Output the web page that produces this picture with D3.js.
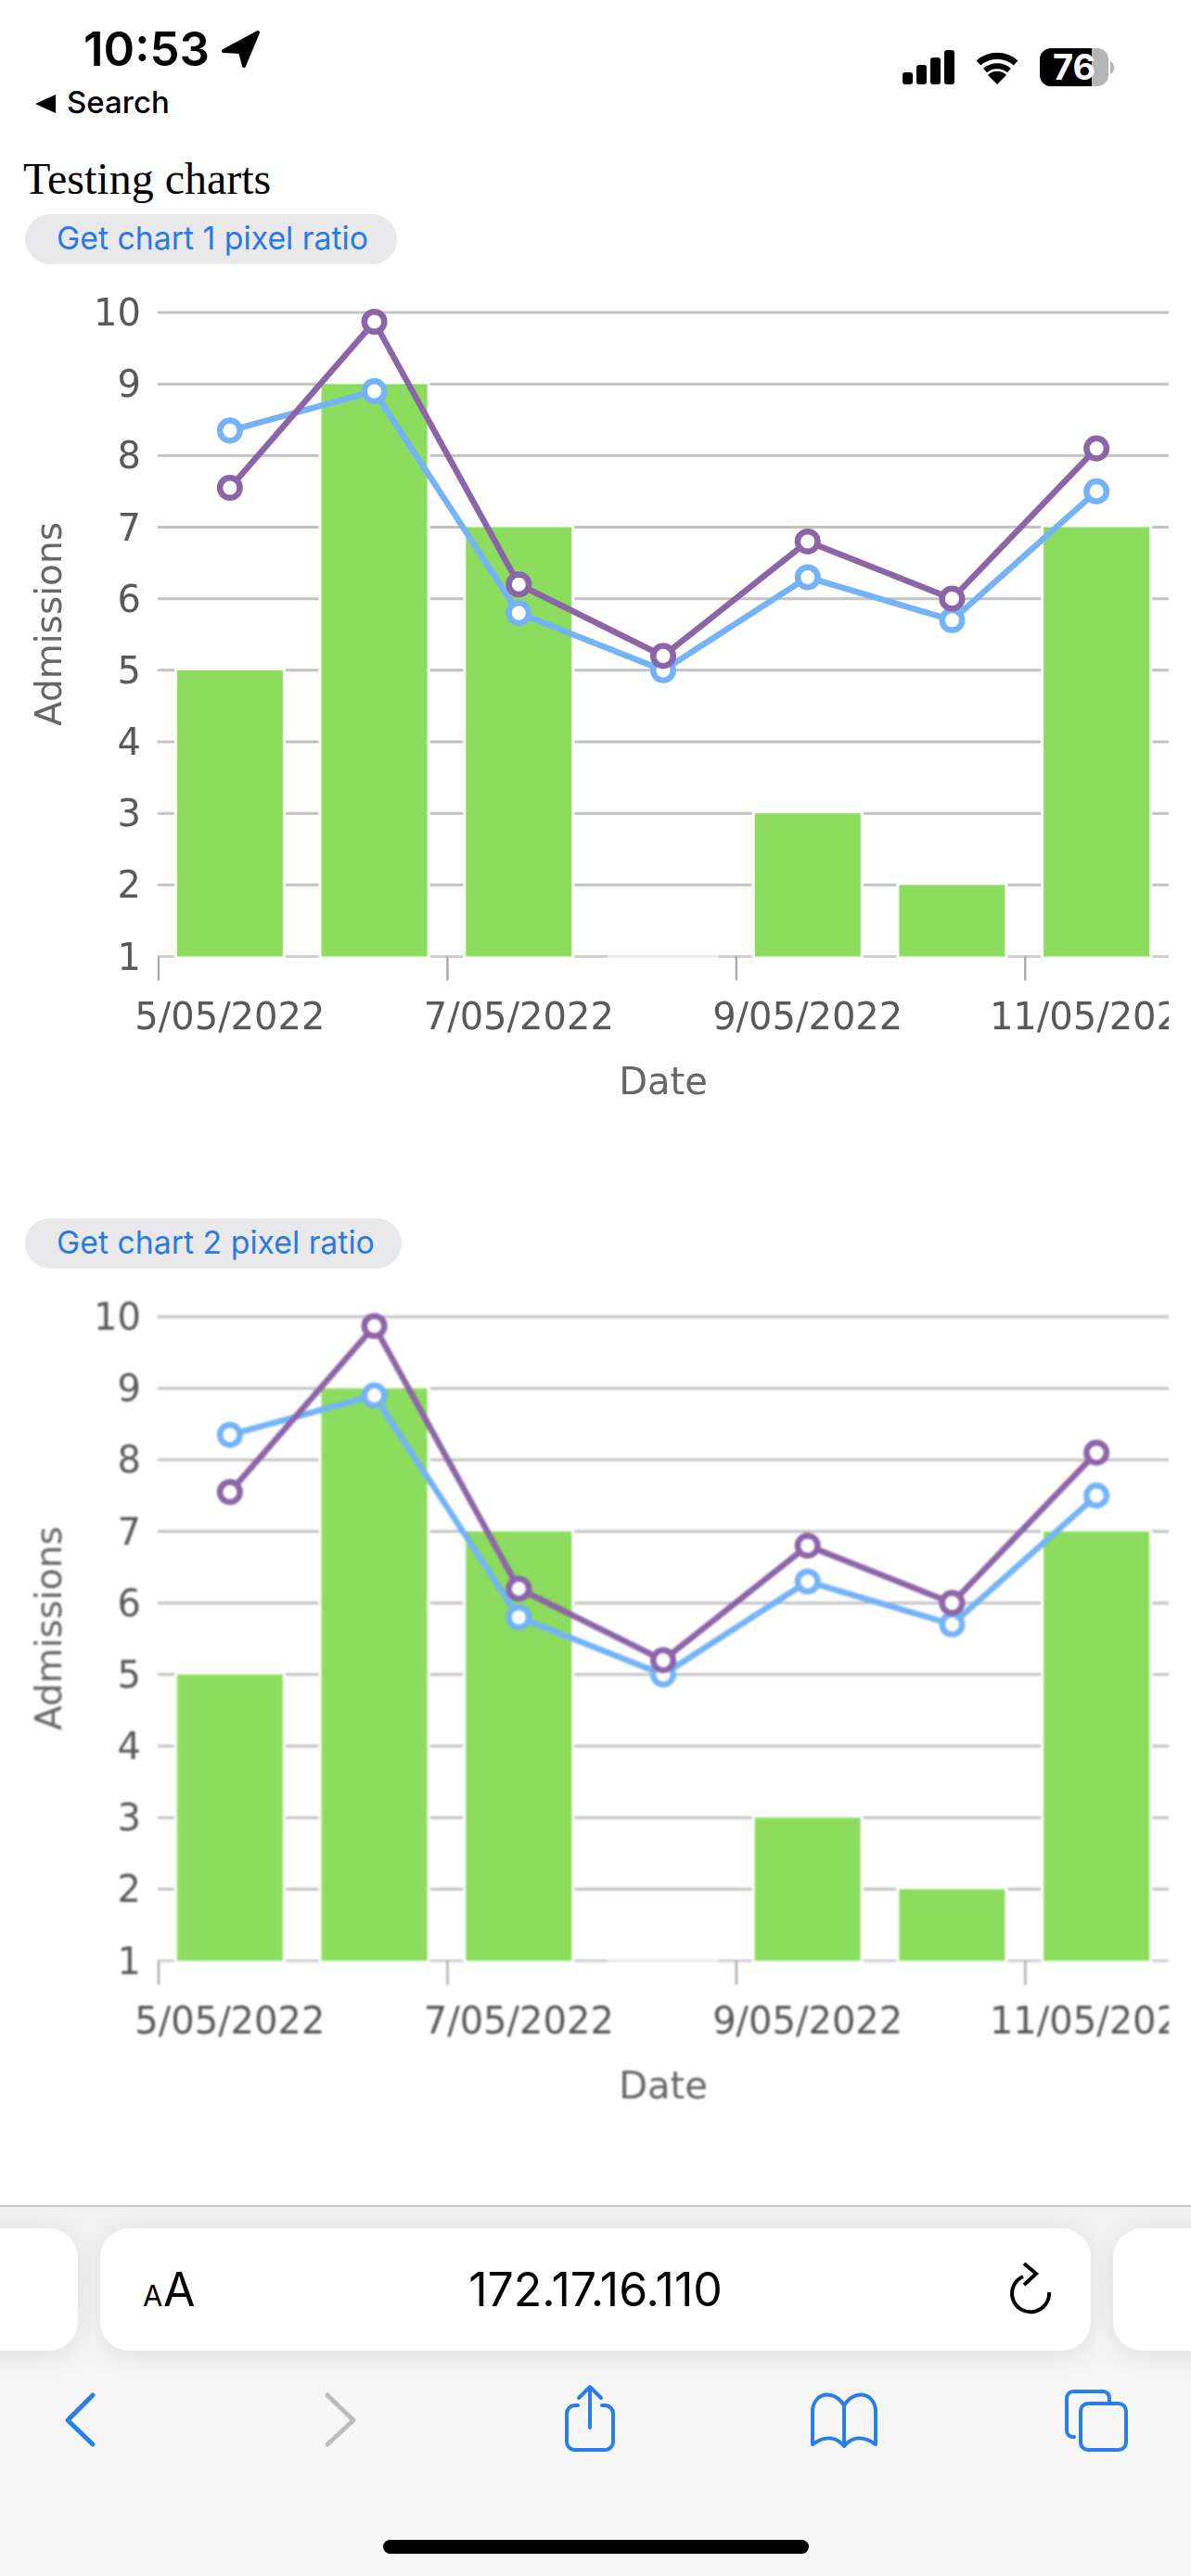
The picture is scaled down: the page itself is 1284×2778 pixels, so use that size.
<!DOCTYPE html>
<html><head><meta charset="utf-8">
<style>html,body{margin:0;padding:0;background:#fff;overflow:hidden}svg{display:block}</style>
<script src="https://cdnjs.cloudflare.com/ajax/libs/d3/7.8.5/d3.min.js"></script>
</head><body>
<script>
const dates = ["5/05/2022","6/05/2022","7/05/2022","8/05/2022","9/05/2022","10/05/2022","11/05/2022"];
const admissions = [5,9,7,1,3,2,7];
const seriesPurple = [7.55,9.87,6.2,5.2,6.8,6.0,8.1];
const seriesBlue = [8.35,8.9,5.8,5.0,6.3,5.7,7.5];
const yTicks = [1,2,3,4,5,6,7,8,9,10];
const xTickDates = ["5/05/2022","7/05/2022","9/05/2022","11/05/2022"];
const buttons = ["Get chart 1 pixel ratio","Get chart 2 pixel ratio"];

const svg = d3.select("body").append("svg").attr("width",1284).attr("height",2778);
const defs = svg.append("defs");
const shadow = defs.append("filter").attr("id","pillshadow").attr("x","-10%").attr("y","-30%").attr("width","120%").attr("height","160%");
shadow.append("feDropShadow").attr("dx",0).attr("dy",6).attr("stdDeviation",14).attr("flood-color","#000").attr("flood-opacity",0.09);
defs.append("clipPath").attr("id","axclip").append("rect").attr("x",0).attr("y",-10).attr("width",1260).attr("height",120);

const chartFont = "'DejaVu Sans',Verdana,sans-serif";
const uiFont = "Inter,Roboto,'Noto Sans',sans-serif";
const x = d3.scaleBand().domain(dates).range([170,1260]).paddingInner(0.268).paddingOuter(0.134);
const y = d3.scaleLinear().domain([1,10]).range([1031.5,337]);

function drawChart(offset, blur){
  const g = svg.append("g").attr("transform",`translate(0,${offset})`).style("filter",`blur(${blur}px)`);
  // grid
  g.append("g").selectAll("line").data(yTicks).join("line")
    .attr("x1",170).attr("x2",1260).attr("y1",d=>y(d)).attr("y2",d=>y(d))
    .attr("stroke",d=>d===1?"#cfcfcf":"#c2c2c2").attr("stroke-width",3);
  // bars
  g.append("g").selectAll("rect").data(dates).join("rect")
    .attr("x",d=>x(d)).attr("width",x.bandwidth())
    .attr("y",(d,i)=>y(admissions[i]))
    .attr("height",(d,i)=>Math.max(y(1)-y(admissions[i]),0.4))
    .attr("fill","#8cdc5e").attr("stroke","#fff").attr("stroke-width",6)
    .attr("stroke-opacity",(d,i)=>admissions[i]===1?0.6:1)
    .attr("fill-opacity",(d,i)=>admissions[i]===1?0:1)
    .style("paint-order","stroke");
  // axis ticks sit on the band's left edge
  const xAxis = d3.axisBottom(x).tickValues(xTickDates).tickSize(26).tickPadding(0).tickSizeOuter(0);
  const ax = g.append("g").attr("transform",`translate(0,${y(1)})`).attr("clip-path","url(#axclip)").call(xAxis);
  ax.select(".domain").remove();
  ax.selectAll(".tick line").attr("x1",-x.step()/2+1).attr("x2",-x.step()/2+1).attr("stroke","#aaa").attr("stroke-width",2.4);
  ax.selectAll(".tick text").attr("y",78).attr("dy",0).attr("fill","#595959")
    .style("font-family",chartFont).style("font-size","40px").attr("text-anchor","middle");
  // y labels
  const yAxis = d3.axisLeft(y).tickValues(yTicks).tickSize(0).tickPadding(0).tickFormat(d3.format("d"));
  const ay = g.append("g").attr("transform","translate(152,0)").call(yAxis);
  ay.select(".domain").remove();
  ay.selectAll(".tick text").attr("dy",13.5).attr("fill","#595959").style("font-family",chartFont).style("font-size","40px");
  // titles
  g.append("text").attr("transform","translate(66,673) rotate(-90)").attr("text-anchor","middle")
    .attr("fill","#666").style("font-family",chartFont).style("font-size","39px").text("Admissions");
  g.append("text").attr("x",715).attr("y",1180).attr("text-anchor","middle")
    .attr("fill","#666").style("font-family",chartFont).style("font-size","40px").text("Date");
  // lines
  const cx = d=>x(d)+x.bandwidth()/2;
  const line = d3.line().x(d=>cx(d[0])).y(d=>y(d[1]));
  [[seriesBlue,"#74b3f8"],[seriesPurple,"#8c65a8"]].forEach(([s,c])=>{
    const pts = dates.map((d,i)=>[d,s[i]]);
    g.append("path").attr("d",line(pts)).attr("fill","none").attr("stroke",c).attr("stroke-width",6.5);
    g.append("g").selectAll("circle").data(pts).join("circle")
      .attr("cx",d=>cx(d[0])).attr("cy",d=>y(d[1])).attr("r",10.8).attr("fill","#fff").attr("stroke",c).attr("stroke-width",6.5);
  });
}

// status bar
svg.append("text").attr("x",90).attr("y",71).attr("fill","#000").style("font-family",uiFont).style("font-size","51px").style("font-weight",600).text("10:53");
svg.append("path").attr("d","M278 35 L241 55 L259 56 L263 71 Z").attr("fill","#000").attr("stroke","#000").attr("stroke-width",4).attr("stroke-linejoin","round");
svg.append("path").attr("d","M60 102 L38 112 L60 122 Z").attr("fill","#000");
svg.append("text").attr("x",72).attr("y",122).attr("fill","#000").style("font-family",uiFont).style("font-size","33px").style("font-weight",500).text("Search");
[[973,78],[988,70],[1003,62],[1018,54]].forEach(([bx,by])=>svg.append("rect").attr("x",bx).attr("y",by).attr("width",11).attr("height",91-by).attr("rx",3).attr("fill","#000"));
svg.append("path").attr("d","M1055 68 A30 30 0 0 1 1095 68").attr("fill","none").attr("stroke","#000").attr("stroke-width",7);
svg.append("path").attr("d","M1062 76 A20 20 0 0 1 1088 76").attr("fill","none").attr("stroke","#000").attr("stroke-width",6);
svg.append("path").attr("d","M1075 91 L1065 81 A14 14 0 0 1 1085 81 Z").attr("fill","#000");
svg.append("rect").attr("x",1121).attr("y",52).attr("width",74).attr("height",41).attr("rx",12).attr("fill","#b5b5b5");
svg.append("path").attr("d","M1133 52 H1177 V93 H1133 A12 12 0 0 1 1121 81 V64 A12 12 0 0 1 1133 52 Z").attr("fill","#000");
svg.append("path").attr("d","M1197 66 A8 8 0 0 1 1197 80 Z").attr("fill","#b5b5b5");
svg.append("text").attr("x",1158).attr("y",86).attr("text-anchor","middle").attr("fill","#fff").style("font-family",uiFont).style("font-size","38px").style("font-weight",700).text("76");

// page heading
svg.append("text").attr("x",25).attr("y",209).attr("fill","#000").style("font-family","'Liberation Serif','Times New Roman',serif").style("font-size","48px").text("Testing charts");

// buttons
[[27,231,401,54],[27,1314,406,54]].forEach(([bx,by,bw,bh],i)=>{
  svg.append("rect").attr("x",bx).attr("y",by).attr("width",bw).attr("height",bh).attr("rx",27).attr("fill","#e9e9eb");
  svg.append("text").attr("x",61).attr("y",by+38).attr("fill","#2a7ae2").style("font-family",uiFont).style("font-size","33.8px").text(buttons[i]);
});

drawChart(0,0.5);
drawChart(1083,0.8);

// browser chrome
const tb = defs.append("linearGradient").attr("id","tb").attr("x1",0).attr("x2",0).attr("y1",0).attr("y2",1);
tb.append("stop").attr("offset",0).attr("stop-color","#f1f1f2");
tb.append("stop").attr("offset",0.35).attr("stop-color","#f6f6f7");
tb.append("stop").attr("offset",1).attr("stop-color","#f8f8f9");
svg.append("rect").attr("x",0).attr("y",2379).attr("width",1284).attr("height",399).attr("fill","url(#tb)");
svg.append("line").attr("x1",0).attr("x2",1284).attr("y1",2379).attr("y2",2379).attr("stroke","#c8c8c8").attr("stroke-width",2);
[[-60,144],[108,1068],[1200,144]].forEach(([px,pw])=>svg.append("rect").attr("x",px).attr("y",2403).attr("width",pw).attr("height",132).attr("rx",32).attr("fill","#fff").attr("filter","url(#pillshadow)"));
svg.append("text").attr("x",154).attr("y",2487).attr("fill","#000").style("font-family",uiFont).style("font-size","31px").text("A");
svg.append("text").attr("x",176).attr("y",2487).attr("fill","#000").style("font-family",uiFont).style("font-size","50px").text("A");
svg.append("text").attr("x",642).attr("y",2487).attr("text-anchor","middle").attr("fill","#000").style("font-family",uiFont).style("font-size","50px").text("172.17.16.110");
svg.append("path").attr("d","M1103 2455 A20 20 0 1 0 1131 2472").attr("fill","none").attr("stroke","#000").attr("stroke-width",4);
svg.append("path").attr("d","M1104 2441 L1117 2452 L1104 2464").attr("fill","none").attr("stroke","#000").attr("stroke-width",4);
const blue="#2a7ee8";
const icon=(d,c,w)=>svg.append("path").attr("d",d).attr("fill","none").attr("stroke",c).attr("stroke-width",w).attr("stroke-linecap","round").attr("stroke-linejoin","round");
icon("M100 2583 L73 2610 L100 2636",blue,5);
icon("M353 2583 L381 2610 L353 2636","#bdbdbd",5);
icon("M623 2594 H620 A9 9 0 0 0 611 2603 V2633 A9 9 0 0 0 620 2642 H652 A9 9 0 0 0 661 2633 V2603 A9 9 0 0 0 652 2594 H649",blue,4);
icon("M636 2618 V2574 M624 2586 L636 2574 L648 2586",blue,4);
icon("M910 2594 C900 2578 880 2578 876 2598 V2636 C890 2626 902 2628 910 2638 C918 2628 930 2626 944 2636 V2598 C940 2578 920 2578 910 2594 V2638",blue,4);
icon("M1158 2628 H1156 A7 7 0 0 1 1150 2621 V2586 A7 7 0 0 1 1157 2579 H1188 A7 7 0 0 1 1196 2586 V2592",blue,4);
svg.append("rect").attr("x",1165).attr("y",2592).attr("width",49).attr("height",50).attr("rx",8).attr("fill","none").attr("stroke",blue).attr("stroke-width",4);
svg.append("rect").attr("x",413).attr("y",2739).attr("width",459).attr("height",15).attr("rx",7.5).attr("fill","#000");
</script>
</body></html>
